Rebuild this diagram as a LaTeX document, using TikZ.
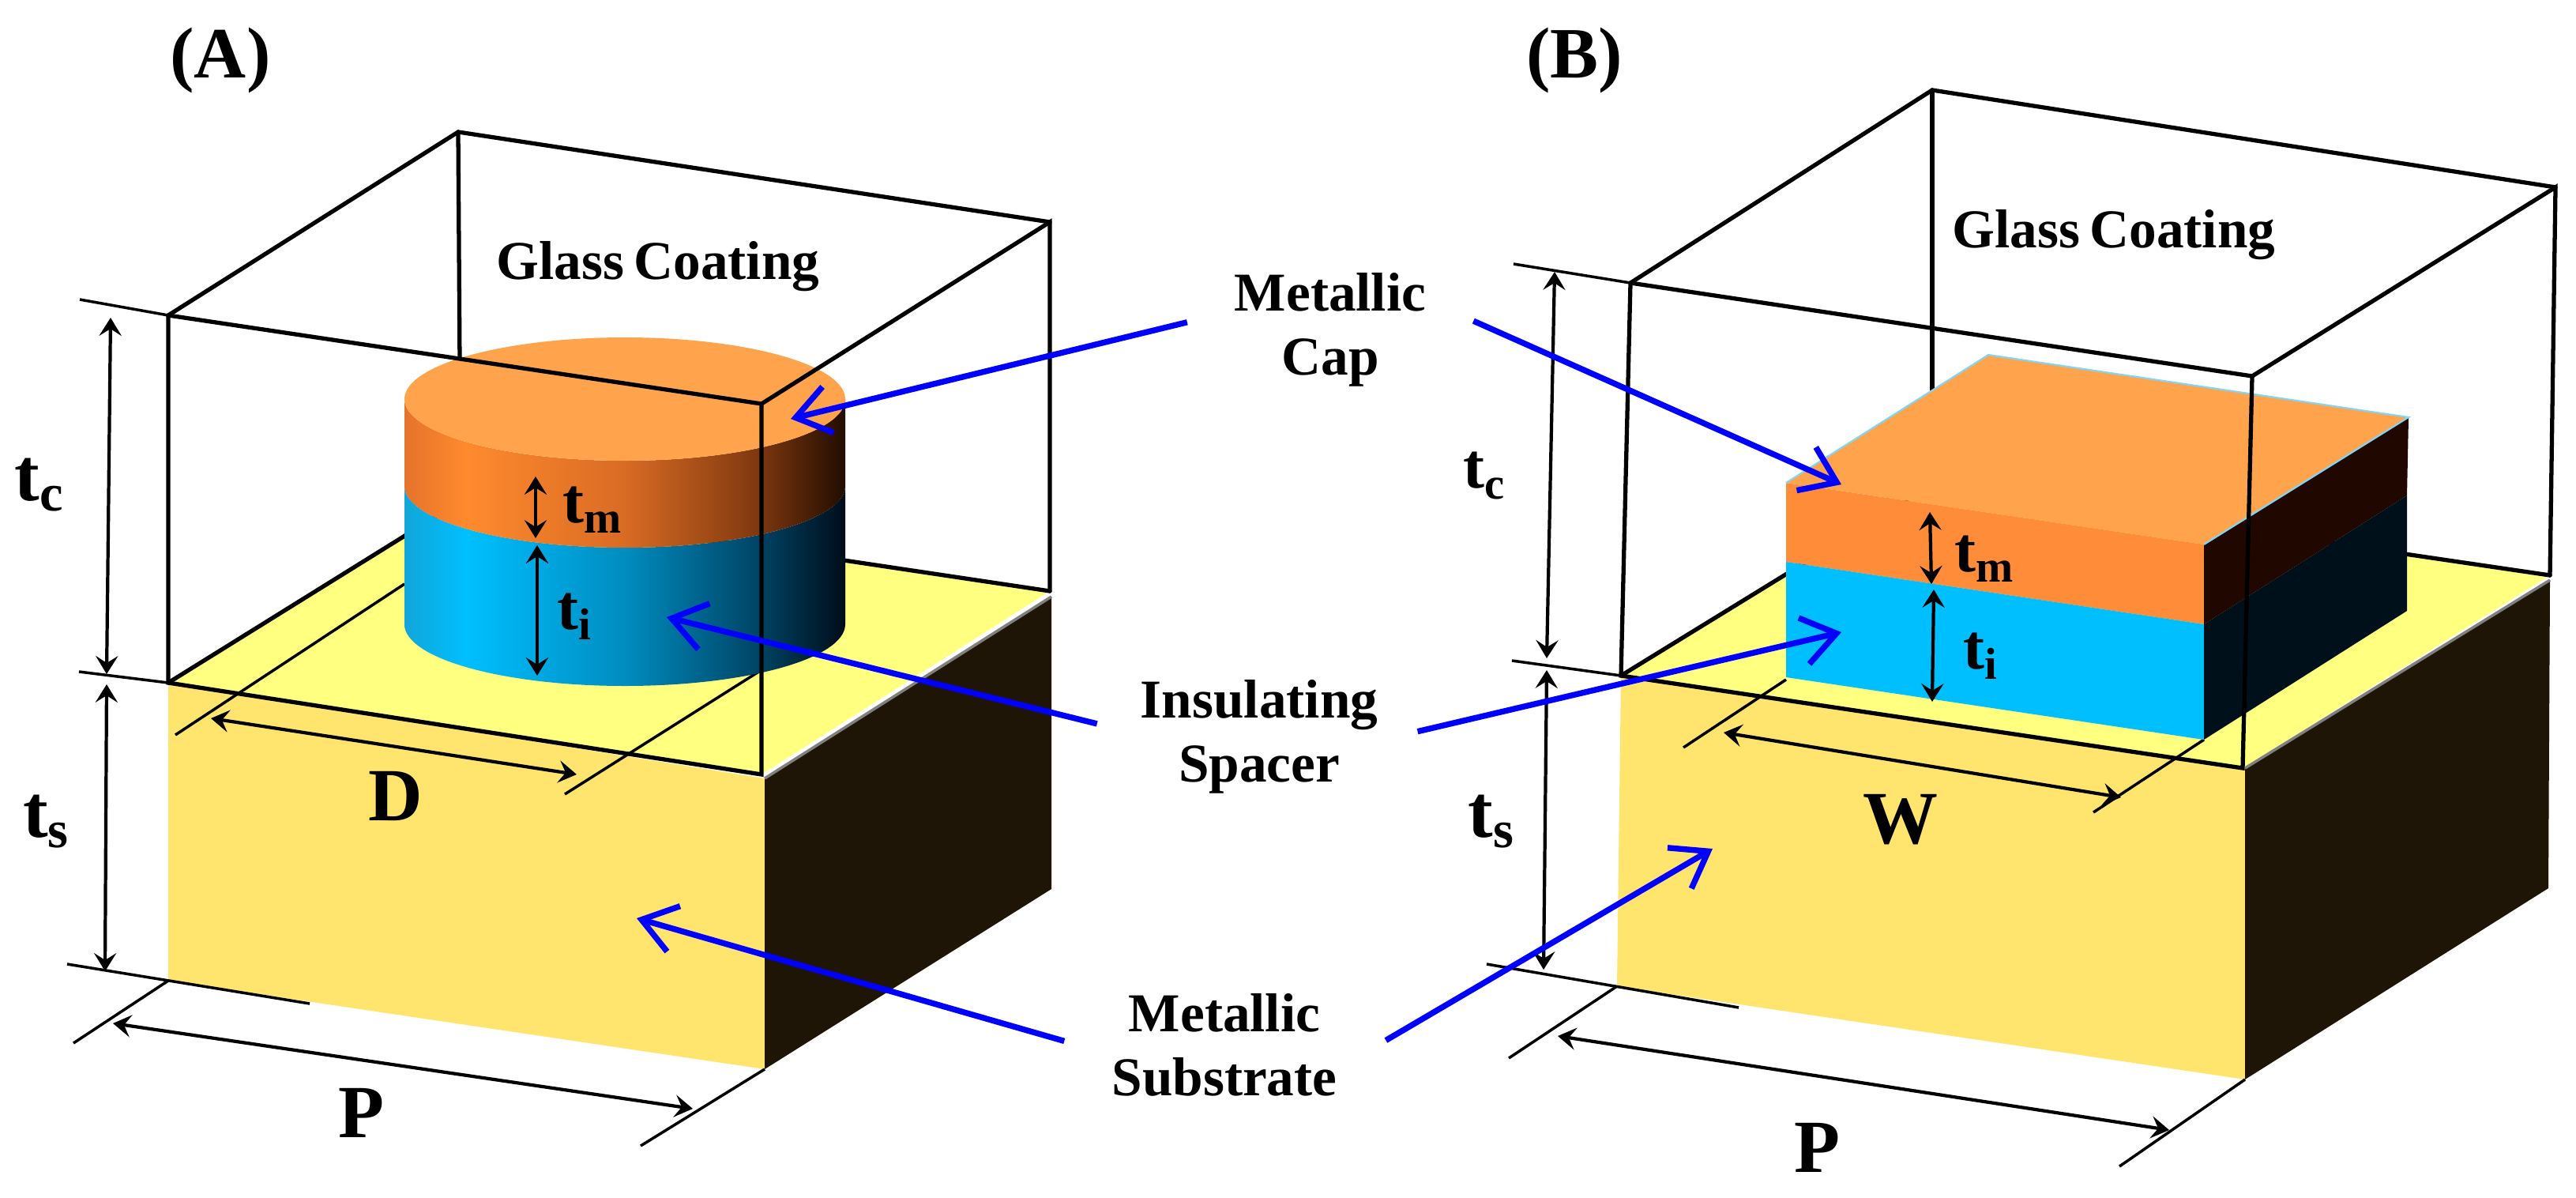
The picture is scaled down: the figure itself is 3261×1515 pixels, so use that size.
\documentclass[tikz,border=0pt]{standalone}
\usepackage{fontspec}
\usepackage{xcolor}
\usepackage{tikz}
\usetikzlibrary{arrows.meta}
\setmainfont{Liberation Serif}

\definecolor{sidedark}{HTML}{1E1506}
\definecolor{faceyellow}{HTML}{FFE56E}
\definecolor{topyellow}{HTML}{FFFF80}
\definecolor{captop}{HTML}{FFA34D}
\definecolor{capfront}{HTML}{FF8C38}
\definecolor{spacerblue}{HTML}{00BFFF}
\definecolor{capside}{HTML}{200800}
\definecolor{spacerside}{HTML}{00101A}

\pgfdeclarehorizontalshading{capcyl}{100bp}{rgb(0bp)=(.9,.45,.17); rgb(25bp)=(.9,.45,.17); rgb(32bp)=(1,.54,.18); rgb(50bp)=(.85,.42,.14); rgb(65bp)=(.5,.22,.06); rgb(75bp)=(.13,.05,0); rgb(100bp)=(.13,.05,0)}
\pgfdeclarehorizontalshading{spacercyl}{100bp}{rgb(0bp)=(.07,.65,.85); rgb(25bp)=(.07,.65,.85); rgb(32bp)=(0,.75,1); rgb(50bp)=(0,.55,.75); rgb(65bp)=(0,.27,.4); rgb(75bp)=(0,.05,.1); rgb(100bp)=(0,.05,.1)}

\tikzset{
  boxline/.style={line width=1.5pt,line cap=round},
  thinline/.style={line width=1pt},
  dimarrow/.style={line width=1.2pt,{Stealth[length=6.5pt,width=8pt,inset=2.5pt]}-{Stealth[length=6.5pt,width=8pt,inset=2.5pt]}},
  bluearrow/.style={line width=2.1pt,blue,-{Straight Barb[length=12pt,width=17pt]}},
  label/.style={font=\fontsize{19.7}{23}\selectfont\bfseries,inner sep=0pt,align=center},
  dimlabel/.style={font=\fontsize{27}{30}\selectfont\bfseries,inner sep=0pt},
  smalldim/.style={font=\fontsize{23}{26}\selectfont\bfseries,inner sep=0pt},
  panel/.style={font=\fontsize{26}{30}\selectfont\bfseries,inner sep=0pt}
}

\begin{document}
\begin{tikzpicture}[x=0.01cm,y=-0.01cm]
\useasboundingbox (0,0) rectangle (3261,1515);

% (A) corners
\coordinate (aTopBack) at (580,167);
\coordinate (aTopRight) at (1329,281);
\coordinate (aTopLeft) at (213,399);
\coordinate (aTopFront) at (964,511);
\coordinate (aBaseLeft) at (213,864);
\coordinate (aBaseFront) at (964,980);
\coordinate (aBaseRight) at (1329,748);
\coordinate (aBaseBack) at (580,636);

\fill[faceyellow] (aBaseLeft) -- (968,985) -- (968,1353) -- (213,1241) -- cycle;
\fill[sidedark] (968,985) -- (1331,755) -- (1331,1125) -- (968,1353) -- cycle;
\fill[topyellow] (aBaseLeft) -- (aBaseFront) -- (aBaseRight) -- (aBaseBack) -- cycle;
\draw[gray,line width=1pt] (968,985) -- (1331,755);

\draw[boxline] (aTopLeft) -- (aTopBack) -- (aTopRight);
\draw[boxline] (aTopBack) -- (582,460);
\draw[boxline] (aBaseLeft) -- (aBaseBack) -- (aBaseRight);
\draw[thinline] (222,930) -- (512,739);
\draw[thinline] (715,1005) -- (1000,825);

% cylinder
\path[shading=spacercyl] (512,615) -- (512,790) arc[start angle=180,end angle=0,x radius=279,y radius=78] -- (1070,615) arc[start angle=0,end angle=180,x radius=279,y radius=78] -- cycle;
\path[shading=capcyl] (512,505) -- (512,615) arc[start angle=180,end angle=0,x radius=279,y radius=78] -- (1070,505) arc[start angle=0,end angle=180,x radius=279,y radius=78] -- cycle;
\fill[captop] (791,505) ellipse[x radius=279,y radius=78];

\draw[boxline] (aTopLeft) -- (aTopFront) -- (aTopRight) -- (aBaseRight);
\draw[boxline] (aTopLeft) -- (aBaseLeft) -- (aBaseFront) -- (aTopFront);

% (A) ticks and sizes
\draw[thinline] (101,379) -- (aTopLeft);
\draw[thinline] (100,850) -- (aBaseLeft);
\draw[thinline] (85,1220) -- (392,1270);
\draw[thinline] (93,1320) -- (213,1241);
\draw[thinline] (811,1450) -- (968,1353);

\coordinate (aTcUp) at (140,402);
\coordinate (aTcDown) at (135,853);
\coordinate (aTsUp) at (135,866);
\coordinate (aTsDown) at (133,1229);
\coordinate (aPLeft) at (143,1295);
\coordinate (aPRight) at (877,1403);
\coordinate (aDLeft) at (267,909);
\coordinate (aDRight) at (730,980);
\coordinate (aTmUp) at (678,603);
\coordinate (aTmDown) at (678,681);
\coordinate (aTiUp) at (680,690);
\coordinate (aTiDown) at (680,855);
\draw[dimarrow] (aTcUp) -- (aTcDown);
\draw[dimarrow] (aTsUp) -- (aTsDown);
\draw[dimarrow] (aPLeft) -- (aPRight);
\draw[dimarrow] (aDLeft) -- (aDRight);
\draw[dimarrow] (aTmUp) -- (aTmDown);
\draw[dimarrow] (aTiUp) -- (aTiDown);

\node[panel] (panelA) at (279,77) {(A)};
\node[label] (glassA) at (833,337) {Glass\hspace{-1.5pt} Coating};
\node[dimlabel] (tcA) at (50,614) {t\textsubscript{c}};
\node[dimlabel] (tsA) at (59,1040) {t\textsubscript{s}};
\node[smalldim] (tmA) at (750,645) {t\textsubscript{m}};
\node[smalldim] (tiA) at (728,780) {t\textsubscript{i}};
\node[dimlabel] (dimD) at (501,1007) {D};
\node[dimlabel] (dimPA) at (457,1408) {P};

% (B) corners
\coordinate (bTopBack) at (2446,114);
\coordinate (bTopRight) at (3235,237);
\coordinate (bTopLeft) at (2064,358);
\coordinate (bTopFront) at (2851,476);
\coordinate (bBaseLeft) at (2052,855);
\coordinate (bBaseFront) at (2839,972);
\coordinate (bBaseRight) at (3228,728);
\coordinate (bBaseBack) at (2446,613);

\fill[faceyellow] (bBaseLeft) -- (2842,972) -- (2842,1366) -- (2047,1248) -- cycle;
\fill[sidedark] (2842,972) -- (3228,734) -- (3226,1124) -- (2842,1366) -- cycle;
\fill[topyellow] (bBaseLeft) -- (bBaseFront) -- (bBaseRight) -- (bBaseBack) -- cycle;
\draw[gray,line width=1pt] (2842,972) -- (3228,734);

\draw[boxline] (bTopLeft) -- (bTopBack) -- (bTopRight);
\draw[boxline] (bTopBack) -- (2446,501);
\draw[boxline] (bBaseLeft) -- (bBaseBack) -- (bBaseRight);
\draw[thinline] (2131,946) -- (2261,860);
\draw[thinline] (2650,1028) -- (2790,936);

% block
\fill[captop] (2517,449) -- (3049,528) -- (2790,689) -- (2261,611) -- cycle;
\fill[capfront] (2261,611) -- (2790,689) -- (2790,790) -- (2261,711) -- cycle;
\fill[spacerblue] (2261,711) -- (2790,790) -- (2790,936) -- (2261,857) -- cycle;
\fill[capside] (2790,689) -- (3049,528) -- (3047,627) -- (2790,790) -- cycle;
\fill[spacerside] (2790,790) -- (3047,627) -- (3047,773) -- (2790,936) -- cycle;
\draw[cyan!50!white,line width=.6pt] (2261,611) -- (2517,449) -- (3049,528) -- (2790,689);

\draw[boxline] (bTopLeft) -- (bTopFront) -- (bTopRight) -- (bBaseRight);
\draw[boxline] (bTopLeft) -- (bBaseLeft) -- (bBaseFront) -- (bTopFront);

% (B) ticks and sizes
\draw[thinline] (1916,334) -- (bTopLeft);
\draw[thinline] (1914,836) -- (bBaseLeft);
\draw[thinline] (1882,1220) -- (2201,1275);
\draw[thinline] (1910,1339) -- (2047,1248);
\draw[thinline] (2683,1476) -- (2842,1366);

\coordinate (bTcUp) at (1968,344);
\coordinate (bTcDown) at (1958,833);
\coordinate (bTsUp) at (1958,848);
\coordinate (bTsDown) at (1954,1227);
\coordinate (bPLeft) at (1972,1311);
\coordinate (bPRight) at (2746,1430);
\coordinate (bWLeft) at (2182,927);
\coordinate (bWRight) at (2685,1009);
\coordinate (bTmUp) at (2443,648);
\coordinate (bTmDown) at (2445,739);
\coordinate (bTiUp) at (2448,746);
\coordinate (bTiDown) at (2446,888);
\draw[dimarrow] (bTcUp) -- (bTcDown);
\draw[dimarrow] (bTsUp) -- (bTsDown);
\draw[dimarrow] (bPLeft) -- (bPRight);
\draw[dimarrow] (bWLeft) -- (bWRight);
\draw[dimarrow] (bTmUp) -- (bTmDown);
\draw[dimarrow] (bTiUp) -- (bTiDown);

\node[panel] (panelB) at (1993,77) {(B)};
\node[label] (glassB) at (2676,297) {Glass\hspace{-1.5pt} Coating};
\node[dimlabel,font=\fontsize{23}{26}\selectfont\bfseries] (tcB) at (1879,602) {t\textsubscript{c}};
\node[dimlabel] (tsB) at (1888,1040) {t\textsubscript{s}};
\node[smalldim] (tmB) at (2512,707) {t\textsubscript{m}};
\node[smalldim] (tiB) at (2508,830) {t\textsubscript{i}};
\node[dimlabel] (dimW) at (2406,1037) {W};
\node[dimlabel] (dimPB) at (2300,1452) {P};

% labels in the middle
\node[label] (capLabel) at (1684,417) {Metallic\\Cap};
\node[label] (spacerLabel) at (1594,932) {Insulating\\Spacer};
\node[label] (substrateLabel) at (1550,1322) {Metallic\\Substrate};

\coordinate (aCapTip) at (1001,530);
\coordinate (aSpacerTip) at (844,781);
\coordinate (aSubstrateTip) at (806,1162);
\coordinate (bCapTip) at (2331,613);
\coordinate (bSpacerTip) at (2331,800);
\coordinate (bSubstrateTip) at (2168,1074);

\draw[bluearrow,shorten <=.61cm] (capLabel.169) -- (aCapTip);
\draw[bluearrow,shorten <=.56cm] (spacerLabel.179) -- (aSpacerTip);
\draw[bluearrow,shorten <=.62cm] (substrateLabel.185) -- (aSubstrateTip);
\draw[bluearrow,shorten <=.65cm] (capLabel.17) -- (bCapTip);
\draw[bluearrow,shorten <=.51cm] (spacerLabel.358) -- (bSpacerTip);
\draw[bluearrow,shorten <=.71cm] (substrateLabel.348) -- (bSubstrateTip);
\end{tikzpicture}
\end{document}
